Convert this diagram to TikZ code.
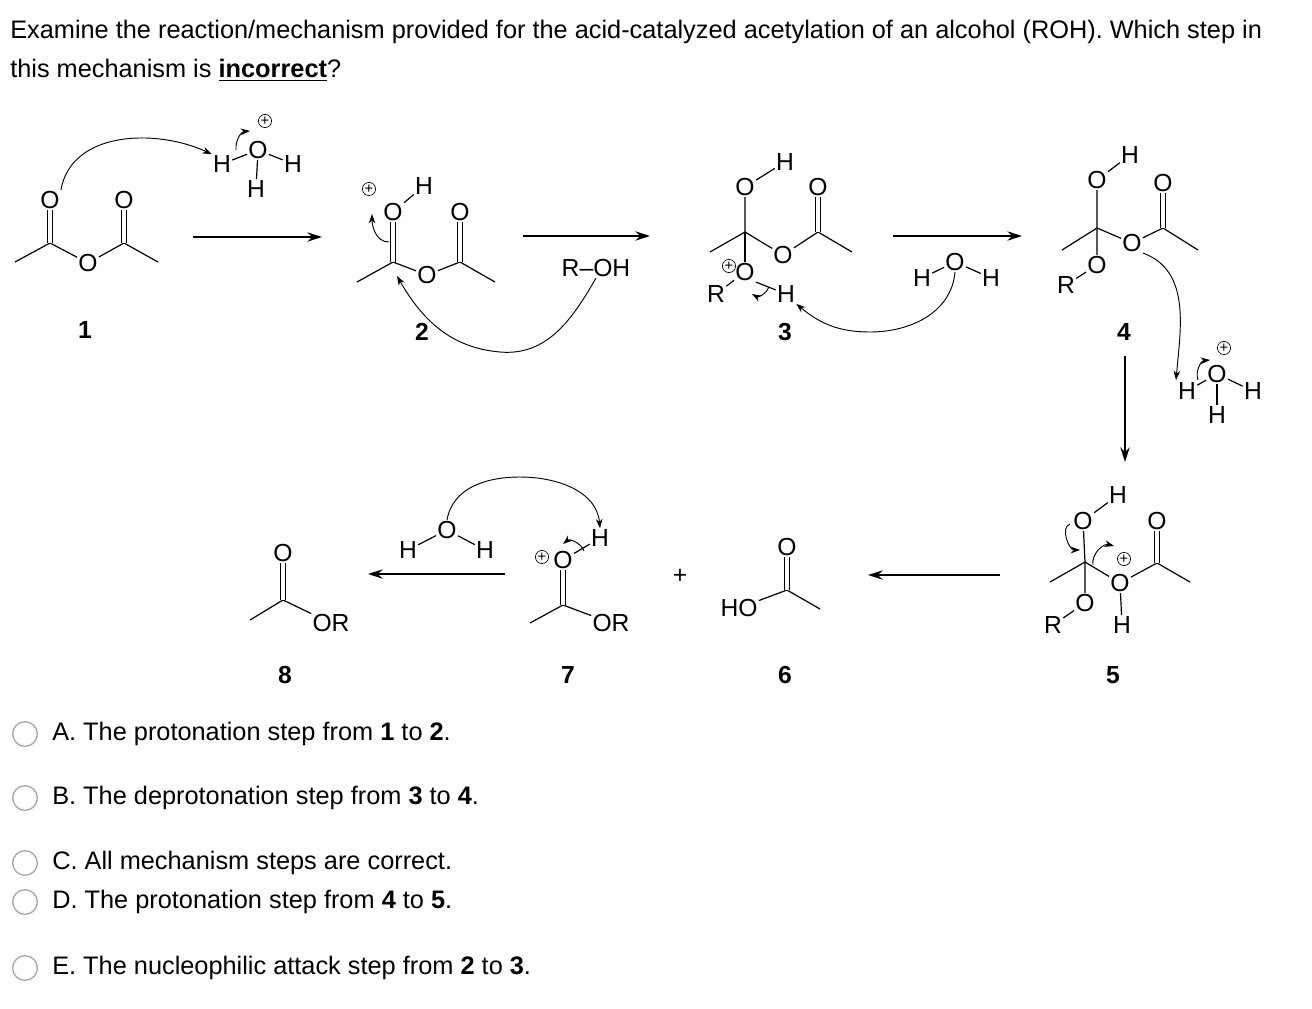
\documentclass[tikz,border=0pt]{standalone}
\usepackage{fontspec}
\setmainfont{Liberation Sans}
\usetikzlibrary{arrows.meta}
\tikzset{
 atm/.style={font=\fontsize{18.5}{18.5}\selectfont, inner sep=0.8pt},
 bd/.style={line width=0.9pt},
 db/.style={double, double distance=3.5pt, line width=0.8pt},
 ar/.style={-{Stealth[length=11pt,width=7pt]}, line width=1pt},
 cv/.style={-{Stealth[length=7pt,width=5pt]}, line width=0.7pt},
 chg/.style={circle,draw,line width=0.5pt,inner sep=0.3pt,font=\fontsize{11}{11}\selectfont},
 lbl/.style={font=\bfseries\fontsize{18.5}{18.5}\selectfont},
 txt/.style={font=\fontsize{19}{19}\selectfont, anchor=west, inner sep=0pt},
 rad/.style={circle,draw=gray!70,line width=1pt,minimum size=18.5pt,inner sep=0pt}
}
\begin{document}
\begin{tikzpicture}[x=0.75pt,y=-0.75pt]
\useasboundingbox (0,0) rectangle (1312,1008);
% question
\node[txt] (q1) at (10,32) {Examine the reaction/mechanism provided for the acid-catalyzed acetylation of an alcohol (ROH). Which step in};
\node[txt] (q2) at (10,70) {this mechanism is \textbf{\underline{incorrect}}?};
% ---- mol 1
\coordinate (m1a) at (15,262); \coordinate (c1a) at (50,243); \coordinate (c1b) at (124,243); \coordinate (m1b) at (158,262);
\node[atm] (o1a) at (50,200) {O}; \node[atm] (o1b) at (88,263) {O}; \node[atm] (o1c) at (124,200) {O};
\draw[bd] (m1a)--(c1a)--(o1b)--(c1b)--(m1b);
\draw[db] (c1a)--(o1a); \draw[db] (c1b)--(o1c);
\node[lbl] (l1) at (85,330) {1};
% H3O+ top
\node[atm] (w1o) at (258,150) {O}; \node[atm] (w1a) at (222,164) {H}; \node[atm] (w1b) at (293,164) {H}; \node[atm] (w1c) at (256,189) {H};
\draw[bd] (w1a)--(w1o)--(w1b); \draw[bd] (w1o)--(w1c);
\node[chg] (w1p) at (265,121) {+};
\draw[cv] (o1a.north east) to[out=80,in=155] (w1a.north west);
\draw[cv] (236,150) to[out=95,in=185] (250,131);
\draw[ar] (193,237) -- (322,237);
% ---- mol 2
\coordinate (m2a) at (357,282); \coordinate (c2a) at (393,262); \coordinate (c2b) at (460,262); \coordinate (m2b) at (495,282);
\node[atm] (o2a) at (393,212) {O}; \node[atm] (h2a) at (424,186) {H}; \node[chg] (p2) at (369,189) {+};
\node[atm] (o2b) at (427,275) {O}; \node[atm] (o2c) at (460,212) {O};
\draw[bd] (m2a)--(c2a)--(o2b)--(c2b)--(m2b); \draw[bd] (o2a)--(h2a);
\draw[db] (c2a)--(o2a); \draw[db] (c2b)--(o2c);
\draw[cv] (389,242) to[out=180,in=270] (372,214);
\node[lbl] (l2) at (422,332) {2};
\draw[ar] (523,236) -- (650,236);
\node[atm] (roh) at (596,268) {R--OH};
\draw[cv] (roh.south) to[out=240,in=-5] (500,352) to[out=175,in=-60] (397,276);
% ---- mol 3
\coordinate (c3) at (745,232); \coordinate (m3a) at (710,252); \coordinate (c3b) at (818,232); \coordinate (m3b) at (852,252);
\node[atm] (o3a) at (745,187) {O}; \node[atm] (h3a) at (785,162) {H};
\node[atm] (o3b) at (783,255) {O}; \node[atm] (o3c) at (818,187) {O};
\node[atm] (o3d) at (745,272) {O}; \node[atm] (r3) at (716,294) {R}; \node[atm] (h3b) at (786,294) {H};
\node[chg] (p3) at (729,266) {+};
\draw[bd] (m3a)--(c3)--(o3b)--(c3b)--(m3b); \draw[bd] (c3)--(o3a)--(h3a); \draw[bd] (c3)--(o3d);
\draw[bd] (r3)--(o3d); \draw[bd] (o3d.south east) -- (h3b);
\draw[db] (c3b)--(o3c);
\draw[cv] (769,287) to[out=250,in=-30] (752,294);
\node[lbl] (l3) at (785,332) {3};
\draw[ar] (893,236) -- (1022,236);
\node[atm] (w3o) at (955,262) {O}; \node[atm] (w3a) at (922,278) {H}; \node[atm] (w3b) at (991,278) {H};
\draw[bd] (w3a)--(w3o)--(w3b);
\draw[cv] (w3o.south) to[out=265,in=0] (870,332) to[out=180,in=-40] (h3b.south east);
% ---- mol 4
\coordinate (c4) at (1097,228); \coordinate (m4a) at (1062,250); \coordinate (c4b) at (1163,228); \coordinate (m4b) at (1198,250);
\node[atm] (o4a) at (1097,180) {O}; \node[atm] (h4a) at (1130,155) {H};
\node[atm] (o4b) at (1132,243) {O}; \node[atm] (o4c) at (1163,183) {O};
\node[atm] (o4d) at (1097,265) {O}; \node[atm] (r4) at (1066,285) {R};
\draw[bd] (m4a)--(c4)--(o4b)--(c4b)--(m4b); \draw[bd] (c4)--(o4a)--(h4a); \draw[bd] (c4)--(o4d)--(r4);
\draw[db] (c4b)--(o4c);
\node[lbl] (l4) at (1124,332) {4};
\node[atm] (w4o) at (1217,374) {O}; \node[atm] (w4a) at (1187,391) {H}; \node[atm] (w4b) at (1253,391) {H}; \node[atm] (w4c) at (1217,415) {H};
\draw[bd] (w4a)--(w4o)--(w4b); \draw[bd] (w4o)--(w4c);
\node[chg] (w4p) at (1224,348) {+};
\draw[cv] (o4b.south east) to[out=-20,in=85] (1176,380);
\draw[cv] (1198,380) to[out=110,in=185] (1210,360);
\draw[ar] (1125,356) -- (1125,462);
% ---- mol 5
\coordinate (c5) at (1085,562); \coordinate (m5a) at (1050,582); \coordinate (c5b) at (1157,563); \coordinate (m5b) at (1190,582);
\node[atm] (o5a) at (1083,521) {O}; \node[atm] (h5a) at (1118,495) {H};
\node[atm] (o5b) at (1120,583) {O}; \node[chg] (p5) at (1124,559) {+}; \node[atm] (h5b) at (1122,625) {H};
\node[atm] (o5c) at (1157,521) {O};
\node[atm] (o5d) at (1085,603) {O}; \node[atm] (r5) at (1053,625) {R};
\draw[bd] (m5a)--(c5)--(o5b)--(c5b)--(m5b); \draw[bd] (c5)--(o5a)--(h5a); \draw[bd] (c5)--(o5d)--(r5); \draw[bd] (o5b)--(h5b);
\draw[db] (c5b)--(o5c);
\draw[cv] (1070,524) to[out=200,in=180] (1080,550);
\draw[cv] (1093,565) to[out=100,in=165] (1114,546);
\node[lbl] (l5) at (1113,675) {5};
\draw[ar] (1000,575) -- (868,575);
% ---- mol 6
\coordinate (c6) at (787,590); \coordinate (m6) at (820,609);
\node[atm] (o6a) at (787,547) {O}; \node[atm] (o6b) at (739,608) {HO};
\draw[bd] (o6b)--(c6)--(m6); \draw[db] (c6)--(o6a);
\node[lbl] (l6) at (785,675) {6};
\node[atm] (plus) at (680,576) {+};
% ---- mol 7
\coordinate (c7) at (563,605); \coordinate (m7) at (530,623);
\node[atm] (o7a) at (563,560) {O}; \node[chg] (p7) at (542,557) {+}; \node[atm] (h7) at (600,538) {H};
\node[atm] (o7b) at (611,623) {OR};
\draw[bd] (m7)--(c7)--(o7b); \draw[db] (c7)--(o7a); \draw[bd] (o7a)--(h7);
\draw[cv] (584,551) to[out=110,in=40] (563,544);
\node[lbl] (l7) at (568,675) {7};
\node[atm] (w7o) at (447,530) {O}; \node[atm] (w7a) at (408,550) {H}; \node[atm] (w7b) at (485,550) {H};
\draw[bd] (w7a)--(w7o)--(w7b);
\draw[cv] (w7o.north) to[out=80,in=180] (520,477) to[out=0,in=95] (h7.north);
\draw[ar] (505,574) -- (368,574);
% ---- mol 8
\coordinate (c8) at (283,600); \coordinate (m8) at (250,620);
\node[atm] (o8a) at (283,553) {O}; \node[atm] (o8b) at (331,623) {OR};
\draw[bd] (m8)--(c8)--(o8b); \draw[db] (c8)--(o8a);
\node[lbl] (l8) at (285,675) {8};
% ---- options
\node[rad] (ra) at (25,734) {}; \node[txt] (ta) at (52,734) {A. The protonation step from \textbf{1} to \textbf{2}.};
\node[rad] (rb) at (25,798) {}; \node[txt] (tb) at (52,798) {B. The deprotonation step from \textbf{3} to \textbf{4}.};
\node[rad] (rc) at (25,863) {}; \node[txt] (tc) at (52,863) {C. All mechanism steps are correct.};
\node[rad] (rd) at (25,902) {}; \node[txt] (td) at (52,902) {D. The protonation step from \textbf{4} to \textbf{5}.};
\node[rad] (re) at (25,968) {}; \node[txt] (te) at (52,968) {E. The nucleophilic attack step from \textbf{2} to \textbf{3}.};
\end{tikzpicture}
\end{document}
